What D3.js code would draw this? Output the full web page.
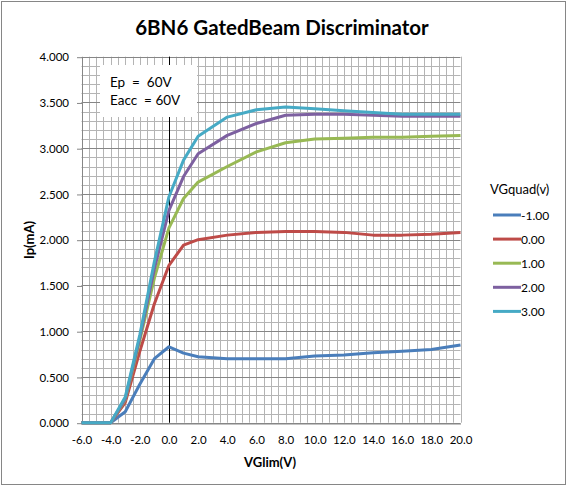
<!DOCTYPE html>
<meta charset="utf-8" />
<style>
    body { margin: 0; background: #fff; }
    text { font-family: Lato, "Open Sans", sans-serif; }
</style>
<svg width="568" height="487"></svg>
<script src="https://d3js.org/d3.v7.min.js"></script>
<script>
    // data
    var vglim = [-6, -5, -4, -3, -2, -1, 0, 1, 2, 4, 6, 8, 10, 12, 14, 16, 18, 20];
    var vgquad = ["-1.00", "0.00", "1.00", "2.00", "3.00"];
    var ipMinus1 = [0, 0, 0, 0.12, 0.42, 0.70, 0.83, 0.76, 0.72, 0.70, 0.70, 0.70, 0.73, 0.74, 0.765, 0.78, 0.80, 0.85];
    var ip0 = [0, 0, 0, 0.22, 0.78, 1.30, 1.72, 1.94, 2.00, 2.05, 2.08, 2.09, 2.09, 2.08, 2.05, 2.05, 2.06, 2.08];
    var ip1 = [0, 0, 0, 0.25, 0.90, 1.58, 2.13, 2.45, 2.63, 2.80, 2.96, 3.06, 3.10, 3.11, 3.12, 3.12, 3.13, 3.14];
    var ip2 = [0, 0, 0, 0.26, 0.93, 1.68, 2.32, 2.69, 2.94, 3.14, 3.27, 3.36, 3.37, 3.37, 3.36, 3.35, 3.35, 3.35];
    var ip3 = [0, 0, 0, 0.28, 0.96, 1.76, 2.47, 2.87, 3.13, 3.34, 3.42, 3.45, 3.43, 3.41, 3.39, 3.37, 3.37, 3.37];
    var series = [ipMinus1, ip0, ip1, ip2, ip3];
    var colors = ["#4a7ebb", "#be4b48", "#98b954", "#7d60a0", "#46aac5"];

    var svg = d3.select("svg");

    // chart border
    svg.append("rect")
        .attr("x", 1.5).attr("y", 1.5)
        .attr("width", 564).attr("height", 483)
        .attr("fill", "#fff")
        .attr("stroke", "#868686");

    var x = d3.scaleLinear().domain([-6, 20]).range([81.5, 460.5]);
    var y = d3.scaleLinear().domain([0, 4]).range([422.7, 56.7]);

    // grid
    var grid = svg.append("g");
    grid.selectAll(".vx")
        .data(d3.range(-6, 20.01, 0.5))
        .enter().append("line")
        .attr("x1", function (d) { return Math.round(x(d)) + 0.5; })
        .attr("x2", function (d) { return Math.round(x(d)) + 0.5; })
        .attr("y1", y(0)).attr("y2", y(4))
        .attr("stroke", "#b4b4b4");
    grid.selectAll(".hy")
        .data(d3.range(0, 40.5, 1))
        .enter().append("line")
        .attr("x1", x(-6)).attr("x2", x(20))
        .attr("y1", function (d) { return Math.round(y(d / 10)) + 0.5; })
        .attr("y2", function (d) { return Math.round(y(d / 10)) + 0.5; })
        .attr("stroke", function (d) { return d % 5 === 0 ? "#868686" : "#b4b4b4"; });

    // y axis ticks on the left
    var yAxis = d3.axisLeft(y)
        .tickValues(d3.range(0, 4.01, 0.5))
        .tickFormat(function (d) { return d.toFixed(3); })
        .tickSize(5)
        .tickSizeOuter(0);
    var gy = svg.append("g")
        .attr("transform", "translate(" + Math.round(x(-6)) + ",0.5)")
        .call(yAxis);
    gy.select(".domain").attr("stroke", "#868686");
    gy.selectAll(".tick line").attr("stroke", "#868686");
    gy.selectAll(".tick text")
        .attr("font-size", 11.5)
        .attr("font-family", "Lato, sans-serif")
        .attr("fill", "#000")
        .attr("x", -13);

    // x axis labels along the bottom (plain hyphen minus like the original)
    var xAxis = d3.axisBottom(x)
        .tickValues(d3.range(-6, 20.01, 2))
        .tickFormat(function (d) { return d.toFixed(1); })
        .tickSize(0)
        .tickSizeOuter(0);
    var gx = svg.append("g")
        .attr("transform", "translate(0," + (Math.round(y(0)) + 0.5) + ")")
        .call(xAxis);
    gx.select(".domain").attr("stroke", "#868686");
    gx.selectAll(".tick text")
        .attr("font-size", 11.5)
        .attr("font-family", "Lato, sans-serif")
        .attr("fill", "#000")
        .attr("dy", "1.55em");

    // vertical axis line at x = 0
    svg.append("line")
        .attr("x1", Math.round(x(0)) + 0.5).attr("x2", Math.round(x(0)) + 0.5)
        .attr("y1", y(0)).attr("y2", y(4))
        .attr("stroke", "#000");

    // annotation box
    svg.append("rect")
        .attr("x", 100).attr("y", 65)
        .attr("width", 97).attr("height", 52)
        .attr("fill", "#fff");
    svg.append("text")
        .attr("x", 110).attr("y", 87)
        .attr("font-size", 13.5)
        .attr("xml:space", "preserve")
        .text("Ep  =  60V");
    svg.append("text")
        .attr("x", 110).attr("y", 104.5)
        .attr("font-size", 13.5)
        .attr("xml:space", "preserve")
        .text("Eacc  = 60V");

    // series lines
    var line = d3.line()
        .x(function (d, i) { return x(vglim[i]); })
        .y(function (d) { return y(d); });

    svg.append("g")
        .selectAll("path")
        .data(series)
        .enter()
        .append("path")
        .attr("d", line)
        .attr("fill", "none")
        .attr("stroke", function (d, i) { return colors[i]; })
        .attr("stroke-width", 3)
        .attr("stroke-linejoin", "round");

    // title and axis titles
    svg.append("text")
        .attr("x", 282).attr("y", 35)
        .attr("text-anchor", "middle")
        .attr("font-size", 20.5)
        .attr("font-weight", "bold")
        .text("6BN6 GatedBeam Discriminator");
    svg.append("text")
        .attr("x", 270).attr("y", 467)
        .attr("text-anchor", "middle")
        .attr("font-size", 13)
        .attr("font-weight", "bold")
        .text("VGlim(V)");
    svg.append("text")
        .attr("transform", "translate(34,240) rotate(-90)")
        .attr("text-anchor", "middle")
        .attr("font-size", 13)
        .attr("font-weight", "bold")
        .text("Ip(mA)");

    // legend
    svg.append("text")
        .attr("x", 490).attr("y", 194)
        .attr("font-size", 13)
        .text("VGquad(v)");
    var leg = svg.append("g")
        .selectAll("g")
        .data(vgquad)
        .enter()
        .append("g")
        .attr("transform", function (d, i) { return "translate(0," + (215 + i * 24.1) + ")"; });
    leg.append("line")
        .attr("x1", 493).attr("x2", 521)
        .attr("stroke", function (d, i) { return colors[i]; })
        .attr("stroke-width", 3);
    leg.append("text")
        .attr("x", 521).attr("y", 4.5)
        .attr("font-size", 12)
        .text(function (d) { return d; });
</script>
